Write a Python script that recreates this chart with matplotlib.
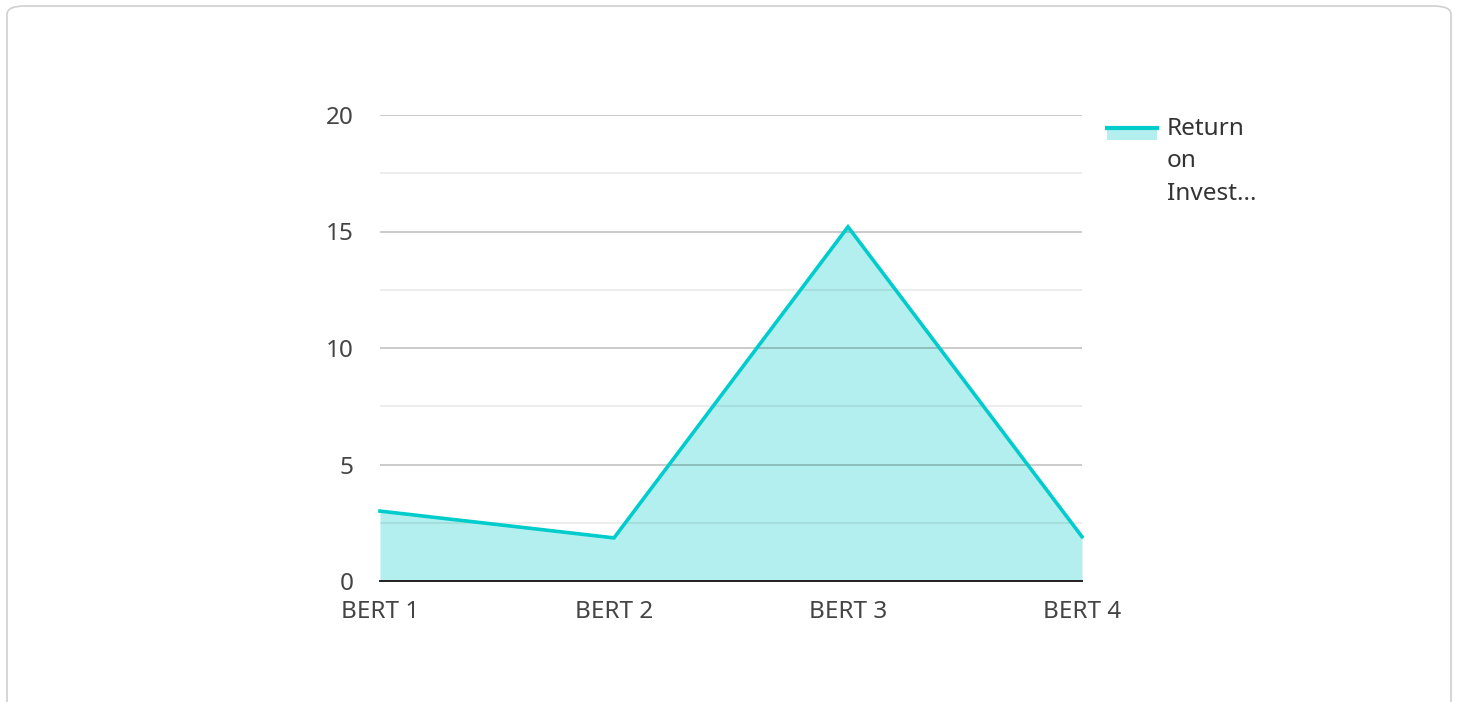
import matplotlib
matplotlib.use("Agg")
import matplotlib.pyplot as plt
from matplotlib.patches import FancyBboxPatch, Rectangle
from matplotlib.lines import Line2D

categories = ["BERT 1", "BERT 2", "BERT 3", "BERT 4"]
roi_values = [3.0, 1.85, 15.2, 1.9]
series_name = "Return\non\nInvest..."
y_ticks = [0, 5, 10, 15, 20]
y_minor_ticks = [2.5, 7.5, 12.5, 17.5]

plt.rcParams['font.family'] = ['Noto Sans', 'DejaVu Sans']

W, H = 1458, 702
fig = plt.figure(figsize=(W / 100, H / 100), dpi=100)
fig.patch.set_facecolor("white")

# card border
card = FancyBboxPatch((7 / W, -10 / H), (1451 - 7) / W, (702 - 6 + 10) / H,
                      boxstyle="round,pad=0,rounding_size=0.012",
                      transform=fig.transFigure, facecolor="none",
                      edgecolor="#d0d0d0", linewidth=1.2, zorder=-5)
fig.patches.append(card)

ax = fig.add_axes([380 / W, 1 - 581 / H, (1082 - 380) / W, (581 - 115) / H])
ax.set_facecolor("none")

line_color = "#00cccc"
fill_color = "#b2efee"
x = list(range(len(categories)))

ax.fill_between(x, roi_values, 0, color=fill_color, linewidth=0, zorder=2)
ax.plot(x, roi_values, color=line_color, linewidth=2.6, zorder=4,
        solid_joinstyle="miter", clip_on=False)

ax.set_xlim(0, len(categories) - 1)
ax.set_ylim(0, 20)
ax.set_yticks(y_ticks)
ax.set_yticks(y_minor_ticks, minor=True)
for v in y_ticks[1:]:
    ax.axhline(v, color="black", alpha=0.24, linewidth=1.2, zorder=3)
for v in y_minor_ticks:
    ax.axhline(v, color="black", alpha=0.085, linewidth=1.2, zorder=3)
ax.set_xticks(x)
ax.set_xticklabels(categories)

for s in ["top", "right", "left"]:
    ax.spines[s].set_visible(False)
ax.spines["bottom"].set_color("#222222")
ax.spines["bottom"].set_linewidth(1.4)
ax.spines["bottom"].set_zorder(5)

ax.tick_params(axis="both", which="both", length=0, labelsize=17.5,
               labelcolor="#444444")
ax.tick_params(axis="y", pad=19)
ax.tick_params(axis="x", pad=13.5)

# legend
fig.patches.append(Rectangle((1107 / W, 1 - 140 / H), 50 / W, 14 / H,
                             transform=fig.transFigure, facecolor=fill_color,
                             edgecolor="none"))
fig.lines.append(Line2D([1107 / W, 1157 / W], [1 - 127.5 / H, 1 - 127.5 / H],
                        transform=fig.transFigure, color=line_color,
                        linewidth=3))
fig.text(1167 / W, 1 - 117 / H, series_name, fontsize=17.5, color="#333333",
         va="top", ha="left", linespacing=1.47)

fig.savefig("out.png", dpi=100, facecolor="white")
